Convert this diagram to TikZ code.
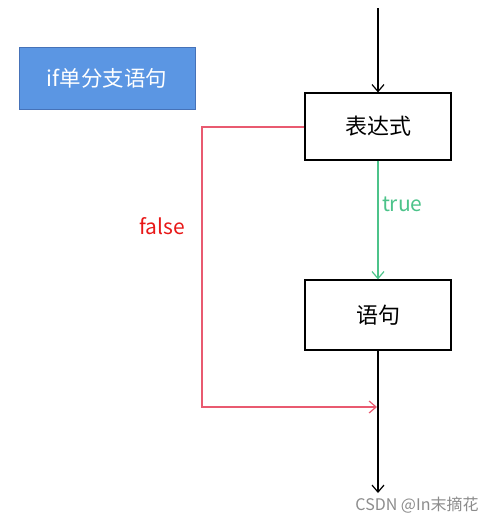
\documentclass[tikz,border=0pt]{standalone}
\usepackage{fontspec}
\setmainfont{Noto Sans CJK SC}
\usetikzlibrary{arrows.meta}
\definecolor{titlefill}{HTML}{5B96E3}
\definecolor{titledraw}{HTML}{4672B8}
\definecolor{truecol}{HTML}{4CC38A}
\definecolor{falseline}{HTML}{E95A70}
\definecolor{falsetext}{HTML}{E81818}
\begin{document}
\begin{tikzpicture}[x=1pt,y=-1pt,
  box/.style={draw=black,line width=1.1pt,minimum width=146pt,minimum height=67pt,inner sep=0pt,font=\fontsize{22}{26}\selectfont},
  arr/.style={line width=1.4pt,-{Straight Barb[length=7pt,width=12pt,line width=1.2pt]}},
  lbl/.style={font=\fontsize{21}{25}\selectfont}]
\useasboundingbox (0,0) rectangle (491,523);
\node[fill=titlefill,draw=titledraw,line width=1pt,minimum width=176pt,minimum height=62pt,inner sep=0pt,text=white,font=\fontsize{21.5}{25}\selectfont] (title) at (107,78) {if单分支语句};
\node[box] (expr) at (378,126.5) {表达式};
\node[box,minimum height=70pt] (stmt) at (378,315) {语句};
\coordinate (top) at (378,8);
\coordinate (bot) at (378,493);
\coordinate (fl) at (202,127);
\coordinate (fb) at (202,407);
\coordinate (fe) at (377,407);
\draw[arr,black] (top) -- (expr.north);
\draw[arr,truecol] (expr.south) -- node[pos=0.37,right,text=truecol,lbl,xshift=0pt]{true} (stmt.north);
\draw[arr,black] (stmt.south) -- (bot);
\draw[arr,falseline] (expr.west |- fl) -- (fl) -- (fb) -- (fe);
\node[lbl,text=falsetext] (flab) at (162,226) {false};
\node[font=\fontsize{16}{18}\selectfont,text=black!45] (wm) at (417,505) {CSDN @In末摘花};
\end{tikzpicture}
\end{document}
